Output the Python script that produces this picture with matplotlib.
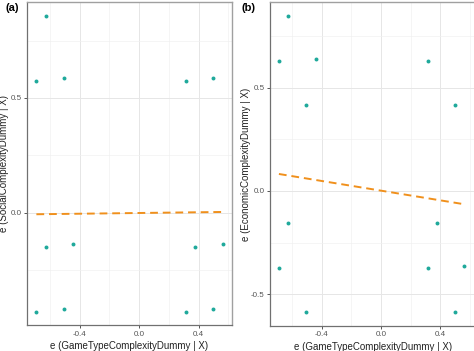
import matplotlib
matplotlib.use('Agg')
import matplotlib.pyplot as plt
from matplotlib.ticker import MultipleLocator, FormatStrFormatter
import numpy as np

plt.rcParams['font.family'] = ['Liberation Sans', 'DejaVu Sans']

# residuals of GameTypeComplexityDummy (shared x for both panels)
game_type = [-0.69, -0.69, -0.627, -0.627, -0.506, -0.506, -0.442,
             0.315, 0.315, 0.378, 0.497, 0.497, 0.563]
# residuals of the outcome in each panel
social = [0.575, -0.433, 0.859, -0.150, 0.587, -0.421, -0.136,
          0.575, -0.433, -0.150, 0.587, -0.421, -0.136]
economic = [0.629, -0.373, 0.848, -0.153, 0.418, -0.585, 0.637,
            0.629, -0.373, -0.153, 0.418, -0.585, -0.364]

# fitted line (intercept, slope)
fit_social = (-0.0015, 0.008)
fit_economic = (0.0016, -0.117)

xlabel = 'e (GameTypeComplexityDummy | X)'
ylabels = ['e (SocialComplexityDummy | X)', 'e (EconomicComplexityDummy | X)']
tags = ['(a)', '(b)']

point_col = '#1fa99b'
line_col = '#f0901c'

fig = plt.figure(figsize=(4.74, 3.51), dpi=100, facecolor='white')
ax_a = fig.add_axes([0.057, 0.074, 0.4325, 0.920])
ax_b = fig.add_axes([0.5703, 0.072, 0.4325, 0.922])

panels = [(ax_a, social, fit_social, (-0.753, 0.625), (-0.49, 0.918), -0.086),
          (ax_b, economic, fit_economic, (-0.748, 0.637), (-0.652, 0.914), -0.094)]

for i, (ax, yvals, fit, xl, yl, ylab_x) in enumerate(panels):
    ax.set_xlim(*xl)
    ax.set_ylim(*yl)
    ax.xaxis.set_major_locator(MultipleLocator(0.4))
    ax.xaxis.set_minor_locator(MultipleLocator(0.2))
    ax.yaxis.set_major_locator(MultipleLocator(0.5))
    ax.yaxis.set_minor_locator(MultipleLocator(0.25))
    ax.grid(which='major', color='#e6e6e6', lw=0.7)
    ax.grid(which='minor', color='#f0f0f0', lw=0.45)
    ax.set_axisbelow(True)

    ax.scatter(game_type, yvals, s=8, color=point_col, zorder=3, linewidths=0)

    xs = np.array([min(game_type), max(game_type)])
    ax.plot(xs, fit[0] + fit[1] * xs, color=line_col, lw=1.4,
            linestyle=(0, (4, 2.5)), zorder=4)

    for side in ['top', 'right']:
        ax.spines[side].set_color('#a0a0a0')
        ax.spines[side].set_linewidth(1.0)
    for side in ['left', 'bottom']:
        ax.spines[side].set_color('#707070')
        ax.spines[side].set_linewidth(0.9)

    ax.tick_params(which='major', length=2.5, width=0.7, color='#555555',
                   labelsize=5.8, labelcolor='#555555', pad=1.5)
    ax.tick_params(which='minor', length=0)
    ax.xaxis.set_major_formatter(FormatStrFormatter('%.1f'))
    ax.yaxis.set_major_formatter(FormatStrFormatter('%.1f'))

    ax.set_xlabel(xlabel, fontsize=7, color='#222222', labelpad=2.5)
    ax.set_ylabel(ylabels[i], fontsize=7, color='#222222')
    ax.yaxis.set_label_coords(ylab_x, 0.5)

fig.text(0.012, 0.978, tags[0], fontsize=8, fontweight='bold', va='center')
fig.text(0.509, 0.978, tags[1], fontsize=8, fontweight='bold', va='center')

fig.savefig('out.png', dpi=100, facecolor='white')
